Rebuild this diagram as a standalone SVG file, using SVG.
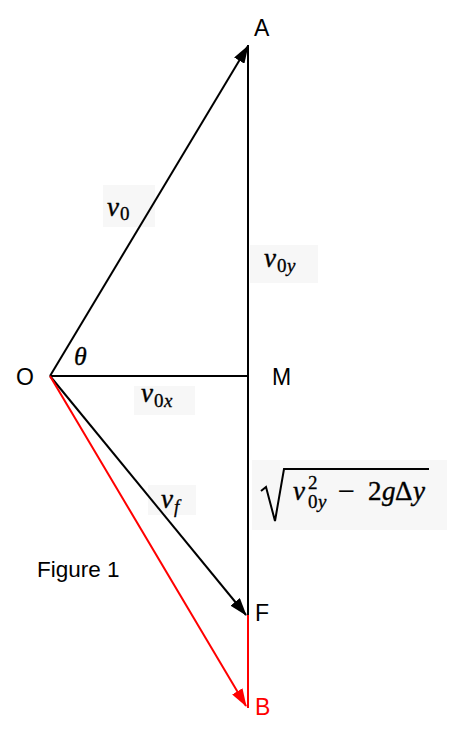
<svg xmlns="http://www.w3.org/2000/svg" width="450" height="736" viewBox="0 0 450 736">
<style>
.lbl{font-family:"Liberation Sans",Arial,sans-serif;font-size:22px;fill:#000}
.math{font-family:"Liberation Serif","DejaVu Serif",serif;font-size:27px;font-style:italic;fill:#000;stroke:#000;stroke-width:0.4}
.sub{font-family:"Liberation Serif","DejaVu Serif",serif;font-size:19px;fill:#000;stroke:#000;stroke-width:0.3}
.subi{font-family:"Liberation Serif","DejaVu Serif",serif;font-size:19px;font-style:italic;fill:#000;stroke:#000;stroke-width:0.3}
.box{fill:#f7f7f7}
.ln{stroke:#000;stroke-width:2;fill:none}
.red{stroke:#f00;stroke-width:2;fill:none}
</style>
<defs>
<marker id="ab" markerWidth="18" markerHeight="12" refX="17" refY="6" orient="auto" markerUnits="userSpaceOnUse"><path d="M0,0 L18,6 L0,12 Z" fill="#000"/></marker>
<marker id="ar" markerWidth="18" markerHeight="12" refX="17" refY="6" orient="auto" markerUnits="userSpaceOnUse"><path d="M0,0 L18,6 L0,12 Z" fill="#f00"/></marker>
</defs>
<rect width="450" height="736" fill="#fff"/>
<g id="label-boxes">
<rect class="box" x="103" y="185" width="52" height="42"/>
<rect class="box" x="250" y="245" width="68" height="38"/>
<rect class="box" x="134" y="386" width="61" height="29"/>
<rect class="box" x="148" y="485" width="48" height="30"/>
<rect class="box" x="252" y="460" width="195" height="70"/>
</g>
<g id="connectors">
<line class="ln" x1="248" y1="45" x2="248" y2="615"/>
<line class="red" x1="248" y1="615" x2="248" y2="708"/>
<line class="ln" x1="50" y1="376" x2="248" y2="376"/>
<line class="ln" x1="50" y1="376" x2="248" y2="46" marker-end="url(#ab)"/>
<line class="ln" x1="50" y1="376" x2="246" y2="615" marker-end="url(#ab)"/>
<line class="red" x1="50" y1="376" x2="246" y2="706" marker-end="url(#ar)"/>
</g>
<g id="node-A"><text class="lbl" x="254" y="36" style="font-size:23px">A</text></g>
<g id="node-O"><text class="lbl" x="16" y="385" style="font-size:23px">O</text></g>
<g id="node-M"><text class="lbl" x="272" y="385" style="font-size:23px">M</text></g>
<g id="node-F"><text class="lbl" x="255" y="621" style="font-size:23px">F</text></g>
<g id="node-B"><text class="lbl" x="255" y="715" style="fill:#f00;font-size:23px">B</text></g>
<g id="theta"><text class="math" x="74" y="365" style="font-size:26px;stroke-width:0.3">θ</text></g>
<g id="label-v0"><text class="math" x="107" y="216">v</text><text class="sub" x="120" y="220">0</text></g>
<g id="label-v0y"><text class="math" x="264" y="267">v</text><text class="sub" x="277" y="272">0</text><text class="subi" x="287" y="272">y</text></g>
<g id="label-v0x"><text class="math" x="141" y="402">v</text><text class="sub" x="154" y="407">0</text><text class="subi" x="164" y="407">x</text></g>
<g id="label-vf"><text class="math" x="161" y="508">v</text><text class="subi" x="174" y="513">f</text></g>
<g id="label-sqrt">
<path d="M261,491 L266,487 L275,521 L284,469 L429,469" fill="none" stroke="#000" stroke-width="2"/>
<text class="math" x="293" y="500">v</text>
<text class="sub" x="308" y="489">2</text>
<text class="sub" x="308" y="508">0</text><text class="subi" x="318" y="508">y</text>
<text class="sub" x="338" y="501" style="font-size:30px">−</text>
<text class="math" x="368" y="500" style="font-style:normal">2</text>
<text class="math" x="382" y="500">g</text>
<text class="math" x="395" y="500" style="font-style:normal">Δ</text>
<text class="math" x="413" y="500">y</text>
</g>
<g id="caption"><text class="lbl" x="37" y="577" style="font-size:22.5px">Figure 1</text></g>
</svg>
